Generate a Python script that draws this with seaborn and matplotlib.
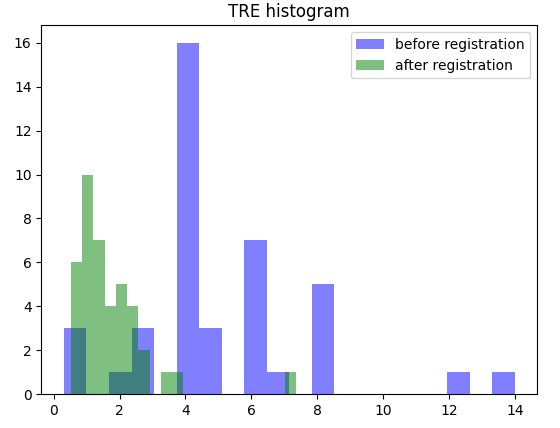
import numpy as np
import matplotlib
matplotlib.use('Agg')
import matplotlib.pyplot as plt
import pandas as pd
import seaborn as sns

# TRE values (mm) before / after registration
tre_before = [0.31, 0.6, 0.8,
              2.0,
              2.5, 2.7, 2.9,
              3.78, 3.8, 3.85, 3.88, 3.9, 3.95, 4.0, 4.02, 4.05, 4.1, 4.15, 4.18, 4.2, 4.25, 4.3, 4.35,
              4.5, 4.7, 4.9,
              5.9, 6.0, 6.1, 6.15, 6.2, 6.3, 6.4,
              6.8,
              7.9, 8.0, 8.1, 8.2, 8.4,
              12.3,
              13.99]
tre_after = [0.525, 0.6, 0.65, 0.7, 0.75, 0.8,
             0.9, 0.92, 0.95, 1.0, 1.0, 1.05, 1.1, 1.1, 1.15, 1.2,
             1.25, 1.3, 1.35, 1.38, 1.4, 1.45, 1.5,
             1.6, 1.7, 1.75, 1.85,
             1.95, 2.0, 2.05, 2.1, 2.2,
             2.3, 2.4, 2.45, 2.5,
             2.65, 2.8,
             3.4,
             3.75,
             7.35]
labels = ['before registration', 'after registration']

fig = plt.figure(figsize=(5.6, 4.28), dpi=100)
ax = fig.add_axes([0.0738, 0.0794, 0.8857, 0.8614])

sns.histplot(x=tre_before, bins=20, color='b', alpha=0.5, linewidth=0,
             label=labels[0], ax=ax)
sns.histplot(x=tre_after, bins=20, color='g', alpha=0.5, linewidth=0,
             label=labels[1], ax=ax)

ax.set_ylabel('')
ax.set_title('TRE histogram', fontsize=12)
ax.legend(loc='upper right')

fig.savefig('out.png', dpi=100)
